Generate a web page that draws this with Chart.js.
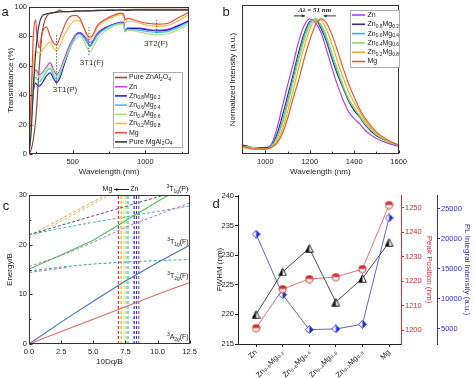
<!DOCTYPE html>
<html><head><meta charset="utf-8">
<script src="https://cdn.jsdelivr.net/npm/chart.js@4.4.1/dist/chart.umd.min.js"></script>
<style>
html,body{margin:0;padding:0;background:#fff}
body{width:474px;height:378px;overflow:hidden;position:relative}
canvas{position:absolute;display:block}
#ca{left:0;top:0;width:200px;height:190px}
#cb{left:210px;top:0;width:200px;height:190px}
#cc{left:0;top:178px;width:200px;height:200px}
#cd{left:200px;top:178px;width:274px;height:200px}
</style></head><body>
<canvas id="ca" width="200" height="190"></canvas>
<canvas id="cb" width="200" height="190"></canvas>
<canvas id="cc" width="200" height="200"></canvas>
<canvas id="cd" width="274" height="200"></canvas>
<script>
// ---------- panel a : transmittance ----------
const wavelengthA = [200,215,230,245,255,270,290,320,345,370,390,410,440,480,520,550,580,605,620,640,670,720,780,830,850,860,880,950,1020,1080,1150,1220,1300];
const transPureZnAl2O4 = [0,3,10,22,35,58,82,93,95.5,96,96.5,97.5,96.5,96.5,97,97,97,97,97.2,97.3,97.5,97.6,97.8,97.8,97.8,97.8,97.9,98,98,98,98,98,98];
const transZn = [2,25,48,57,56,54,55,59,62,57,54,56,64,74,81,82.5,80,77,75.5,77,82,85.5,88,89.5,89.5,84,85.5,85.5,84.5,84,84.5,87,90];
const transZn08Mg02 = [1,22,42,48,47,46,48,53,55,51,48.5,51,60,71,80,82,79,75,73.5,76,81,85,88,89,89,83,85,85,84,83.5,84,86.5,90.5];
const transZn06Mg04 = [2,24,45,52,51,49,51,56,58,53,50.5,53,62,72,80,81.5,78.5,74.5,73,75.5,80.5,84.5,87.5,88.5,88.5,83,84.5,84,83,82.5,83,85.5,89.5];
const transZn04Mg06 = [2,26,48,55,54,52,54,58,60,55,52.5,55,62,71,78,80,76,71,69,72,78,83,86.5,88,88,83,84,83,81.5,81,81.5,84,88];
const transZn02Mg08 = [3,35,62,70,69,68.5,70,74,76,72,70,73,80,87,90.5,90,85,78.5,77.5,80,86,90,93,94.5,94,89,90,89,87,86.5,87,90,94.5];
const transMg = [5,40,80,91,80,72,82,86,80,75,74,78,86,93,94,92,85,80,79,81,87,91,94,95.5,95,91,92,90,88.5,88,88.5,92,96];
const transPureMgAl2O4 = [0,15,45,68,78,88,93.5,95,95.5,95.8,96,96.3,96.5,96.6,96.8,96.9,97,97,97,97.1,97.2,97.3,97.4,97.5,97.5,97.4,97.4,97.5,97.5,97.5,97.5,97.5,97.5];
const namesA = ['Pure ZnAl_{2}O_{4}','Zn','Zn_{0.8}Mg_{0.2}','Zn_{0.6}Mg_{0.4}','Zn_{0.4}Mg_{0.6}','Zn_{0.2}Mg_{0.8}','Mg','Pure MgAl_{2}O_{4}'];
const bandPosA = [390, 612, 1078];        // dashed band markers (nm)
const bandLowA = [47, 67, 82];
const bandHighA = [81, 86, 91];
const bandNamesA = ['3T1(P)','3T1(F)','3T2(F)'];
const ticksAx = [500,1000];
const ticksAy = [0,20,40,60,80,100];

// ---------- panel b : normalized PL ----------
const wavelengthB = [900,950,1000,1025,1050,1075,1100,1125,1150,1175,1200,1225,1250,1275,1300,1325,1350,1375,1400,1425,1450,1500,1550,1600];
const plZn      = [0.05,0.03,0.03,0.05,0.16,0.33,0.5,0.66,0.83,0.95,1.0,0.97,0.9,0.77,0.63,0.5,0.39,0.3,0.25,0.21,0.16,0.1,0.065,0.04];
const plZn08Mg02= [0.05,0.03,0.03,0.04,0.12,0.26,0.42,0.58,0.75,0.89,0.98,0.99,0.93,0.83,0.7,0.58,0.48,0.38,0.31,0.26,0.2,0.12,0.08,0.05];
const plZn06Mg04= [0.04,0.03,0.02,0.04,0.1,0.22,0.38,0.55,0.72,0.87,0.97,1.0,0.95,0.85,0.72,0.6,0.49,0.39,0.33,0.27,0.21,0.13,0.08,0.05];
const plZn04Mg06= [0.04,0.03,0.02,0.035,0.09,0.2,0.35,0.52,0.69,0.84,0.95,1.0,0.96,0.87,0.74,0.62,0.5,0.4,0.33,0.27,0.21,0.13,0.08,0.05];
const plZn02Mg08= [0.03,0.02,0.02,0.03,0.07,0.16,0.3,0.46,0.63,0.79,0.92,0.99,0.99,0.92,0.81,0.68,0.56,0.45,0.37,0.3,0.23,0.14,0.085,0.05];
const plMg      = [0.04,0.02,0.02,0.03,0.06,0.13,0.25,0.4,0.54,0.7,0.84,0.95,1.0,0.97,0.88,0.76,0.63,0.51,0.41,0.32,0.25,0.15,0.09,0.05];
const namesB = ['Zn','Zn_{0.8}Mg_{0.2}','Zn_{0.6}Mg_{0.4}','Zn_{0.4}Mg_{0.6}','Zn_{0.2}Mg_{0.8}','Mg'];
const ticksBx = [1000,1200,1400,1600];

// ---------- panel c : Tanabe-Sugano ----------
const dqX = [0,2.5,5,7.5,10,12.5];
const e3T2g = [0,2.5,5,7.5,10,12.4];
const e3T1gF = [0,4.4,8.6,12.7,16.4,19.9];
const e3T1gPX = [0,2.5,5,7.5,10,10.85];
const e3T1gP = [15.1,17.9,20.9,24.8,28.7,30];
const eTealLow = [14.7,15.5,16.1,16.5,16.8,17.0];
const ePurpleLowX = [0,1.5,3];
const ePurpleLow = [14.4,14.9,15.4];
const ePink = [15.6,17.8,20.5,23.5,26,28.4];
const eTealUp = [22,23.3,24.5,25.6,26.7,27.8];
const eDarkX = [0,2.5,5,7.5,10,10.5];
const eDark = [22,23.9,25.8,27.7,29.6,30];
const eOrangeX = [0,6];
const eOrange = [21.8,30];
const eYellowX = [0,6.3];
const eYellow = [21.3,30];
const dqSamples = [6.95,7.17,7.39,7.55,7.7,8.18,8.36,8.54];
const ticksCx = [0,2.5,5,7.5,10,12.5];
const ticksCy = [0,10,20,30];

// ---------- panel d : FWHM / peak / integral ----------
const compD = ['Zn','Zn₀.₈Mg₀.₂','Zn₀.₆Mg₀.₄','Zn₀.₄Mg₀.₆','Zn₀.₂Mg₀.₈','Mg'];
const fwhmD = [220, 227.2, 231.2, 222.1, 226.1, 232.2];
const peakD = [1200.8, 1216.8, 1220.9, 1221.7, 1225, 1251.2];
const integD = [20800, 10700, 4900, 5000, 5800, 23500];
const ticksDy = [215,220,225,230,235,240];
const ticksDy1 = [1200,1210,1220,1230,1240,1250];
const ticksDy2 = [5000,10000,15000,20000,25000];

// ================= helpers =================
const FONT = '"Liberation Sans", Arial, Helvetica, sans-serif';
Chart.defaults.font.family = FONT;
Chart.defaults.font.size = 7.5;
Chart.defaults.color = '#222';
Chart.defaults.elements.point.radius = 0;

function richParts(s){
  const re = /([_^])\{([^}]*)\}/g; const parts = []; let last = 0, m;
  while ((m = re.exec(s))) {
    if (m.index > last) parts.push({t:s.slice(last, m.index), k:0});
    parts.push({t:m[2], k: m[1] === '_' ? 1 : 2});
    last = re.lastIndex;
  }
  if (last < s.length) parts.push({t:s.slice(last), k:0});
  return parts;
}
function drawRich(ctx, s, x, y, size, color, align, fam){
  fam = fam || FONT;
  const parts = richParts(s); let w = 0;
  for (const p of parts){ ctx.font = (p.k ? size*0.7 : size) + 'px ' + fam; p.w = ctx.measureText(p.t).width; w += p.w; }
  let cx = align === 'center' ? x - w/2 : align === 'right' ? x - w : x;
  ctx.save(); ctx.fillStyle = color; ctx.textBaseline = 'middle'; ctx.textAlign = 'left';
  for (const p of parts){
    ctx.font = (p.k ? size*0.7 : size) + 'px ' + fam;
    const dy = p.k === 1 ? size*0.32 : p.k === 2 ? -size*0.38 : 0;
    ctx.fillText(p.t, cx, y + dy); cx += p.w;
  }
  ctx.restore();
}
function drawArrow(ctx, x0, y0, x1, y1, color){
  ctx.save(); ctx.strokeStyle = color; ctx.fillStyle = color; ctx.lineWidth = 1;
  ctx.beginPath(); ctx.moveTo(x0, y0); ctx.lineTo(x1, y1); ctx.stroke();
  const a = Math.atan2(y1-y0, x1-x0), h = 3.5;
  ctx.beginPath(); ctx.moveTo(x1, y1);
  ctx.lineTo(x1 - h*Math.cos(a-0.45), y1 - h*Math.sin(a-0.45));
  ctx.lineTo(x1 - h*Math.cos(a+0.45), y1 - h*Math.sin(a+0.45));
  ctx.closePath(); ctx.fill(); ctx.restore();
}
const setTicks = list => s => { s.ticks = list.map(v => ({value:v})); };
const pts = (xs, ys) => xs.map((x, i) => ({x, y: ys[i]}));

const framePlugin = { id:'frame', afterDatasetsDraw(chart, args, o){
  if (!o || !o.on) return;
  const {ctx, chartArea:a} = chart;
  const L = Math.round(a.left)+0.5, T = Math.round(a.top)+0.5, R = Math.round(a.right)-0.5, B = Math.round(a.bottom)-0.5;
  ctx.save(); ctx.strokeStyle = '#333'; ctx.lineWidth = 1;
  ctx.strokeRect(L, T, R-L, B-T);
  for (const t of (o.ticks || [])){
    const s = chart.scales[t.id];
    const draw = (v, len) => { const p = Math.round(s.getPixelForValue(v)) + 0.5; ctx.beginPath();
      if (s.isHorizontal()){ ctx.moveTo(p, B); ctx.lineTo(p, B-len); } else { ctx.moveTo(L, p); ctx.lineTo(L+len, p); }
      ctx.stroke(); };
    s.ticks.forEach(k => draw(k.value, t.len));
    (t.minor || []).forEach(v => draw(v, t.len*0.6));
  }
  ctx.restore();
}};
const legendPlugin = { id:'richLegend', afterDraw(chart, args, o){
  if (!o || !o.box) return;
  const ctx = chart.ctx, b = o.box;
  ctx.save(); ctx.fillStyle = '#fff'; ctx.fillRect(b[0], b[1], b[2], b[3]);
  ctx.strokeStyle = '#999'; ctx.lineWidth = 0.8; ctx.strokeRect(b[0]+0.5, b[1]+0.5, b[2], b[3]);
  for (let i = 0; i < o.count; i++){
    const ds = chart.data.datasets[i], y = o.y0 + i*o.dy;
    ctx.strokeStyle = ds.borderColor; ctx.lineWidth = o.lw;
    ctx.beginPath(); ctx.moveTo(o.lx0, y); ctx.lineTo(o.lx1, y); ctx.stroke();
    drawRich(ctx, ds.label, o.tx, y, o.size, '#222', 'left');
  }
  ctx.restore();
}};
const panelLabel = { id:'panelLabel', afterDraw(chart, args, o){
  if (!o || !o.text) return;
  const ctx = chart.ctx; ctx.save(); ctx.font = '13px ' + FONT; ctx.fillStyle = '#222';
  ctx.textAlign = 'center'; ctx.textBaseline = 'middle'; ctx.fillText(o.text, o.x, o.y); ctx.restore();
}};
const baseAxis = (extra) => Object.assign({type:'linear', grid:{display:false, drawTicks:false}, border:{display:false}}, extra);

// ================= chart a =================
const colorsA = ['#9a4a3a','#c040e8','#2424d4','#40c4e6','#a8e47e','#f0c040','#e84a3a','#3c3c3c'];
const seriesA = [transPureZnAl2O4, transZn, transZn08Mg02, transZn06Mg04, transZn04Mg06, transZn02Mg08, transMg, transPureMgAl2O4];
const annA = { id:'annA', afterDatasetsDraw(chart){
  const {ctx, scales:{x, y}} = chart;
  const lblY = [43.6, 62, 74.7], lblX = [447, 631, 1073];
  bandNamesA.forEach((t, i) => drawRich(ctx, t, x.getPixelForValue(lblX[i]), y.getPixelForValue(lblY[i]), 8, '#333', 'center'));
}};
new Chart(document.getElementById('ca'), {
  type:'line',
  data:{datasets:[
    ...seriesA.map((v, i) => ({label:namesA[i], data:pts(wavelengthA, v), borderColor:colorsA[i], borderWidth:1.2, cubicInterpolationMode:'monotone', order:-i})),
    ...bandPosA.map((p, i) => ({data:[{x:p, y:bandLowA[i]}, {x:p, y:bandHighA[i]}], borderColor:'#555', borderWidth:1, borderDash:[1.5,1.5], order:-20}))
  ]},
  options:{responsive:false, animation:false, devicePixelRatio:1,
    layout:{padding:{top:5, right:11, left:0, bottom:0}},
    scales:{
      x: baseAxis({min:200, max:1300, afterBuildTicks:setTicks(ticksAx), afterFit:s=>{s.height=36},
         ticks:{autoSkip:false, padding:3, maxRotation:0, callback:v=>String(v)},
         title:{display:true, text:'Wavelength (nm)', font:{size:8}, padding:{top:0, bottom:13}}}),
      y: baseAxis({min:0, max:100, afterBuildTicks:setTicks(ticksAy), afterFit:s=>{s.width=29},
         ticks:{autoSkip:false, padding:2, callback:v=>String(v)},
         title:{display:true, text:'Transmittance (%)', font:{size:8}, padding:{top:6, bottom:0}}})
    },
    plugins:{legend:{display:false}, tooltip:{enabled:false},
      frame:{on:true, ticks:[{id:'x', len:3, minor:[250,750,1250]}, {id:'y', len:3}]},
      richLegend:{count:8, box:[113,72,69,75], y0:77.5, dy:9.2, lx0:115, lx1:127, tx:129, size:7, lw:1.6},
      panelLabel:{text:'a', x:5, y:12}}
  },
  plugins:[framePlugin, legendPlugin, panelLabel, annA]
});

// ================= chart b =================
const colorsB = ['#b040f0','#30307e','#30b8e0','#90dc60','#f0b020','#e06030'];
const seriesB = [plZn, plZn08Mg02, plZn06Mg04, plZn04Mg06, plZn02Mg08, plMg];
const annB = { id:'annB', afterDatasetsDraw(chart){
  const {ctx, scales:{x, y}} = chart;
  ctx.save(); ctx.fillStyle = '#222'; ctx.font = 'bold italic 7px "Liberation Serif", serif';
  ctx.textAlign = 'center'; ctx.textBaseline = 'middle';
  ctx.fillText('Δλ = 51 nm', x.getPixelForValue(1222), y.getPixelForValue(1.068));
  ctx.restore();
  const ay = y.getPixelForValue(1.023);
  drawArrow(ctx, x.getPixelForValue(1128), ay, x.getPixelForValue(1178), ay, '#333');
  drawArrow(ctx, x.getPixelForValue(1318), ay, x.getPixelForValue(1262), ay, '#333');
}};
new Chart(document.getElementById('cb'), {
  type:'line',
  data:{datasets: seriesB.map((v, i) => ({label:namesB[i], data:pts(wavelengthB, v), borderColor:colorsB[i], borderWidth:1.2, cubicInterpolationMode:'monotone', order:-i}))},
  options:{responsive:false, animation:false, devicePixelRatio:1,
    layout:{padding:{top:5, right:8, left:0, bottom:0}},
    scales:{
      x: baseAxis({min:895, max:1600, afterBuildTicks:setTicks(ticksBx), afterFit:s=>{s.height=36},
         ticks:{autoSkip:false, padding:3, maxRotation:0, callback:v=>String(v)},
         title:{display:true, text:'Wavelength (nm)', font:{size:8}, padding:{top:0, bottom:13}}}),
      y: baseAxis({min:-0.017, max:1.105, afterFit:s=>{s.width=32},
         ticks:{display:false},
         title:{display:true, text:'Normalized Intensity (a.u.)', font:{size:8}, padding:{top:17.5, bottom:0}}})
    },
    plugins:{legend:{display:false}, tooltip:{enabled:false},
      frame:{on:true, ticks:[{id:'x', len:3, minor:[1100,1300,1500]}]},
      richLegend:{count:6, box:[140,10,49,57], y0:15, dy:9.3, lx0:142, lx1:155, tx:157.5, size:7, lw:1.6},
      panelLabel:{text:'b', x:16, y:12}}
  },
  plugins:[framePlugin, legendPlugin, panelLabel, annB]
});

// ================= chart c =================
const vColors = ['#e02020','#f0a020','#ece040','#90e050','#20b0e0','#202090','#3030e0','#8040d0'];
const annC = { id:'annC', afterDatasetsDraw(chart){
  const {ctx, chartArea:a, scales:{x, y}} = chart;
  const ty = a.top - 5.5;
  drawRich(ctx, 'Mg', x.getPixelForValue(6.1), ty, 7, '#222', 'center');
  drawArrow(ctx, x.getPixelForValue(7.78), ty, x.getPixelForValue(6.62), ty, '#222');
  drawRich(ctx, 'Zn', x.getPixelForValue(8.2), ty, 7, '#222', 'center');
  drawRich(ctx, '^{3}T_{1g}(P)', x.getPixelForValue(10.7), ty, 7, '#222', 'left');
  drawRich(ctx, '^{3}T_{1g}(F)', a.right - 1, y.getPixelForValue(20.5), 7, '#222', 'right');
  drawRich(ctx, '^{3}T_{2g}(F)', a.right - 1, y.getPixelForValue(13.7), 7, '#222', 'right');
  drawRich(ctx, '^{3}A_{2g}(F)', a.right - 1, y.getPixelForValue(1.3), 7, '#222', 'right');
}};
const solid = (xs, ys, c) => ({data:pts(xs, ys), borderColor:c, borderWidth:1.1});
const dashed = (xs, ys, c) => ({data:pts(xs, ys), borderColor:c, borderWidth:1, borderDash:[3,2]});
new Chart(document.getElementById('cc'), {
  type:'line',
  data:{datasets:[
    solid(dqX, e3T2g, '#e06666'),
    solid(dqX, e3T1gF, '#3f76bf'),
    solid(e3T1gPX, e3T1gP, '#4cc34c'),
    dashed(dqX, eTealLow, '#3aa0a0'),
    dashed(ePurpleLowX, ePurpleLow, '#b070c0'),
    dashed(dqX, ePink, '#c070d0'),
    dashed(dqX, eTealUp, '#40b0b8'),
    dashed(eDarkX, eDark, '#5a4a80'),
    dashed(eOrangeX, eOrange, '#e8a030'),
    dashed(eYellowX, eYellow, '#d8c060'),
    ...dqSamples.map((v, i) => ({data:[{x:v, y:0}, {x:v, y:30}], borderColor:vColors[i], borderWidth:1.1, borderDash:[3,2]}))
  ]},
  options:{responsive:false, animation:false, devicePixelRatio:1,
    layout:{padding:{top:17, right:10, left:0, bottom:0}},
    scales:{
      x: baseAxis({min:0, max:12.5, afterBuildTicks:setTicks(ticksCx), afterFit:s=>{s.height=34},
         ticks:{autoSkip:false, padding:3, maxRotation:0, callback:v=>v.toFixed(1)},
         title:{display:true, text:'10Dq/B', font:{size:8}, padding:{top:0, bottom:11}}}),
      y: baseAxis({min:0, max:30, afterBuildTicks:setTicks(ticksCy), afterFit:s=>{s.width=29},
         ticks:{autoSkip:false, padding:2, callback:v=>String(v)},
         title:{display:true, text:'Energy/B', font:{size:8}, padding:{top:5, bottom:0}}})
    },
    plugins:{legend:{display:false}, tooltip:{enabled:false},
      frame:{on:true, ticks:[{id:'x', len:3}, {id:'y', len:3, minor:[5,15,25]}]},
      panelLabel:{text:'c', x:6, y:28}}
  },
  plugins:[framePlugin, panelLabel, annC]
});

// ================= chart d =================
function mark(draw){ const c = document.createElement('canvas'); c.width = 9; c.height = 9; draw(c.getContext('2d')); return c; }
const triMark = mark(g => { g.beginPath(); g.moveTo(4.5,0.8); g.lineTo(8.3,8.3); g.lineTo(0.7,8.3); g.closePath();
  g.fillStyle = '#fff'; g.fill(); g.save(); g.clip(); g.fillStyle = '#111'; g.fillRect(0,0,4.5,9); g.restore();
  g.strokeStyle = '#111'; g.lineWidth = 0.9; g.stroke(); });
const cirMark = mark(g => { g.beginPath(); g.arc(4.5,4.5,3.7,0,Math.PI*2);
  g.fillStyle = '#fff'; g.fill(); g.save(); g.clip(); g.fillStyle = '#d83030'; g.fillRect(0,0,9,4.5); g.restore();
  g.strokeStyle = '#d83030'; g.lineWidth = 0.9; g.stroke(); });
const diaMark = mark(g => { g.beginPath(); g.moveTo(4.5,0.5); g.lineTo(8.5,4.5); g.lineTo(4.5,8.5); g.lineTo(0.5,4.5); g.closePath();
  g.fillStyle = '#fff'; g.fill(); g.save(); g.clip(); g.fillStyle = '#1f2fd8'; g.fillRect(4.5,0,4.5,9); g.restore();
  g.strokeStyle = '#1f2fd8'; g.lineWidth = 0.9; g.stroke(); });
const idxD = compD.map((c, i) => i);
const rightAxis = (color, min, max, list, title, pad, w) => ({type:'linear', position:'right', min, max,
  afterBuildTicks:setTicks(list), afterFit:s=>{s.width=w},
  grid:{display:true, drawOnChartArea:false, drawTicks:true, tickLength:3, color},
  border:{display:true, color, width:1},
  ticks:{autoSkip:false, padding:1, color, callback:v=>String(v)},
  title:{display:true, text:title, color, font:{size:8}, padding:{top:pad, bottom:0}}});
new Chart(document.getElementById('cd'), {
  type:'line',
  data:{datasets:[
    {data:pts(idxD, fwhmD), yAxisID:'y', borderColor:'#333', borderWidth:0.9, pointStyle:triMark, pointRadius:4},
    {data:pts(idxD, peakD), yAxisID:'y1', borderColor:'#e06060', borderWidth:0.9, pointStyle:cirMark, pointRadius:4},
    {data:pts(idxD, integD), yAxisID:'y2', borderColor:'#5050d0', borderWidth:0.9, pointStyle:diaMark, pointRadius:4}
  ]},
  options:{responsive:false, animation:false, devicePixelRatio:1,
    layout:{padding:{top:17, right:0, left:0, bottom:0}},
    scales:{
      x:{type:'linear', min:-0.68, max:5.45, afterBuildTicks:setTicks(idxD), afterFit:s=>{s.height=34},
         grid:{display:true, drawOnChartArea:false, drawTicks:true, tickLength:3, color:'#222'},
         border:{display:true, color:'#222', width:1},
         ticks:{autoSkip:false, padding:1, minRotation:45, maxRotation:45, callback:v=>compD[v]}},
      y:{type:'linear', position:'left', min:215, max:240.2, afterBuildTicks:setTicks(ticksDy), afterFit:s=>{s.width=38},
         grid:{display:true, drawOnChartArea:false, drawTicks:true, tickLength:3, color:'#222'},
         border:{display:true, color:'#222', width:1},
         ticks:{autoSkip:false, padding:1, callback:v=>String(v)},
         title:{display:true, text:'FWHM (nm)', font:{size:8}, padding:{top:15, bottom:0}}},
      y1: rightAxis('#d03030', 1194.3, 1255.3, ticksDy1, 'Peak Position (nm)', 3, 36),
      y2: rightAxis('#3030c8', 2500, 27330, ticksDy2, 'PL Integral Intensity (a.u.)', 2, 37)
    },
    plugins:{legend:{display:false}, tooltip:{enabled:false},
      panelLabel:{text:'d', x:16, y:26}}
  },
  plugins:[panelLabel]
});
</script>
</body></html>
